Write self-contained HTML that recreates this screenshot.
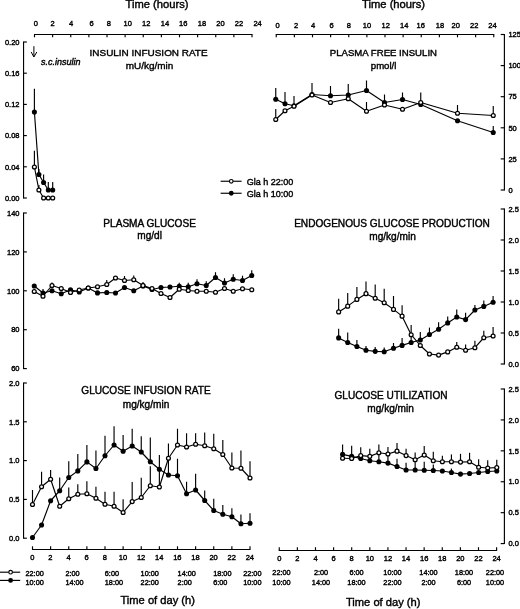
<!DOCTYPE html>
<html><head><meta charset="utf-8"><title>Figure</title>
<style>
html,body{margin:0;padding:0;background:#fff;}
body{width:520px;height:609px;overflow:hidden;}
svg{display:block;font-family:"Liberation Sans", Arial, Helvetica, sans-serif;fill:#000;}
</style></head>
<body>
<svg width="520" height="609" viewBox="0 0 520 609">
<rect x="0" y="0" width="520" height="609" fill="#fff"/>
<text x="157.00" y="7.80" font-size="11.2" text-anchor="middle" stroke="#000" stroke-width="0.4">Time (hours)</text>
<text x="393.60" y="7.80" font-size="11.2" text-anchor="middle" stroke="#000" stroke-width="0.4">Time (hours)</text>
<line x1="34.00" y1="34.50" x2="252.50" y2="34.50" stroke="#000" stroke-width="1.15"/>
<line x1="34.50" y1="34.50" x2="34.50" y2="37.30" stroke="#000" stroke-width="1.15"/>
<text x="35.75" y="26.20" font-size="7.5" text-anchor="middle" stroke="#000" stroke-width="0.4">0</text>
<line x1="52.62" y1="34.50" x2="52.62" y2="37.30" stroke="#000" stroke-width="1.15"/>
<text x="52.50" y="26.20" font-size="7.5" text-anchor="middle" stroke="#000" stroke-width="0.4">2</text>
<line x1="70.75" y1="34.50" x2="70.75" y2="37.30" stroke="#000" stroke-width="1.15"/>
<text x="71.00" y="26.20" font-size="7.5" text-anchor="middle" stroke="#000" stroke-width="0.4">4</text>
<line x1="88.88" y1="34.50" x2="88.88" y2="37.30" stroke="#000" stroke-width="1.15"/>
<text x="91.50" y="26.20" font-size="7.5" text-anchor="middle" stroke="#000" stroke-width="0.4">6</text>
<line x1="107.00" y1="34.50" x2="107.00" y2="37.30" stroke="#000" stroke-width="1.15"/>
<text x="108.75" y="26.20" font-size="7.5" text-anchor="middle" stroke="#000" stroke-width="0.4">8</text>
<line x1="125.12" y1="34.50" x2="125.12" y2="37.30" stroke="#000" stroke-width="1.15"/>
<text x="127.70" y="26.20" font-size="7.5" text-anchor="middle" stroke="#000" stroke-width="0.4">10</text>
<line x1="143.25" y1="34.50" x2="143.25" y2="37.30" stroke="#000" stroke-width="1.15"/>
<text x="146.25" y="26.20" font-size="7.5" text-anchor="middle" stroke="#000" stroke-width="0.4">12</text>
<line x1="161.38" y1="34.50" x2="161.38" y2="37.30" stroke="#000" stroke-width="1.15"/>
<text x="165.00" y="26.20" font-size="7.5" text-anchor="middle" stroke="#000" stroke-width="0.4">14</text>
<line x1="179.50" y1="34.50" x2="179.50" y2="37.30" stroke="#000" stroke-width="1.15"/>
<text x="183.25" y="26.20" font-size="7.5" text-anchor="middle" stroke="#000" stroke-width="0.4">16</text>
<line x1="197.62" y1="34.50" x2="197.62" y2="37.30" stroke="#000" stroke-width="1.15"/>
<text x="202.00" y="26.20" font-size="7.5" text-anchor="middle" stroke="#000" stroke-width="0.4">18</text>
<line x1="215.75" y1="34.50" x2="215.75" y2="37.30" stroke="#000" stroke-width="1.15"/>
<text x="220.50" y="26.20" font-size="7.5" text-anchor="middle" stroke="#000" stroke-width="0.4">20</text>
<line x1="233.88" y1="34.50" x2="233.88" y2="37.30" stroke="#000" stroke-width="1.15"/>
<text x="239.00" y="26.20" font-size="7.5" text-anchor="middle" stroke="#000" stroke-width="0.4">22</text>
<line x1="252.00" y1="34.50" x2="252.00" y2="37.30" stroke="#000" stroke-width="1.15"/>
<text x="257.60" y="26.20" font-size="7.5" text-anchor="middle" stroke="#000" stroke-width="0.4">24</text>
<line x1="275.75" y1="34.50" x2="494.25" y2="34.50" stroke="#000" stroke-width="1.15"/>
<line x1="276.25" y1="34.50" x2="276.25" y2="37.30" stroke="#000" stroke-width="1.15"/>
<text x="277.50" y="27.80" font-size="7.5" text-anchor="middle" stroke="#000" stroke-width="0.4">0</text>
<line x1="294.38" y1="34.50" x2="294.38" y2="37.30" stroke="#000" stroke-width="1.15"/>
<text x="296.00" y="27.80" font-size="7.5" text-anchor="middle" stroke="#000" stroke-width="0.4">2</text>
<line x1="312.50" y1="34.50" x2="312.50" y2="37.30" stroke="#000" stroke-width="1.15"/>
<text x="313.00" y="27.80" font-size="7.5" text-anchor="middle" stroke="#000" stroke-width="0.4">4</text>
<line x1="330.62" y1="34.50" x2="330.62" y2="37.30" stroke="#000" stroke-width="1.15"/>
<text x="331.50" y="27.80" font-size="7.5" text-anchor="middle" stroke="#000" stroke-width="0.4">6</text>
<line x1="348.75" y1="34.50" x2="348.75" y2="37.30" stroke="#000" stroke-width="1.15"/>
<text x="348.75" y="27.80" font-size="7.5" text-anchor="middle" stroke="#000" stroke-width="0.4">8</text>
<line x1="366.88" y1="34.50" x2="366.88" y2="37.30" stroke="#000" stroke-width="1.15"/>
<text x="367.00" y="27.80" font-size="7.5" text-anchor="middle" stroke="#000" stroke-width="0.4">10</text>
<line x1="385.00" y1="34.50" x2="385.00" y2="37.30" stroke="#000" stroke-width="1.15"/>
<text x="385.75" y="27.80" font-size="7.5" text-anchor="middle" stroke="#000" stroke-width="0.4">12</text>
<line x1="403.12" y1="34.50" x2="403.12" y2="37.30" stroke="#000" stroke-width="1.15"/>
<text x="404.25" y="27.80" font-size="7.5" text-anchor="middle" stroke="#000" stroke-width="0.4">14</text>
<line x1="421.25" y1="34.50" x2="421.25" y2="37.30" stroke="#000" stroke-width="1.15"/>
<text x="420.75" y="27.80" font-size="7.5" text-anchor="middle" stroke="#000" stroke-width="0.4">16</text>
<line x1="439.38" y1="34.50" x2="439.38" y2="37.30" stroke="#000" stroke-width="1.15"/>
<text x="440.00" y="27.80" font-size="7.5" text-anchor="middle" stroke="#000" stroke-width="0.4">18</text>
<line x1="457.50" y1="34.50" x2="457.50" y2="37.30" stroke="#000" stroke-width="1.15"/>
<text x="455.75" y="27.80" font-size="7.5" text-anchor="middle" stroke="#000" stroke-width="0.4">20</text>
<line x1="475.62" y1="34.50" x2="475.62" y2="37.30" stroke="#000" stroke-width="1.15"/>
<text x="474.25" y="27.80" font-size="7.5" text-anchor="middle" stroke="#000" stroke-width="0.4">22</text>
<line x1="493.75" y1="34.50" x2="493.75" y2="37.30" stroke="#000" stroke-width="1.15"/>
<text x="492.50" y="27.80" font-size="7.5" text-anchor="middle" stroke="#000" stroke-width="0.4">24</text>
<line x1="23.55" y1="41.50" x2="23.55" y2="198.50" stroke="#000" stroke-width="1.15"/>
<line x1="23.55" y1="42.00" x2="26.85" y2="42.00" stroke="#000" stroke-width="1.15"/>
<text x="19.55" y="44.70" font-size="7.5" text-anchor="end" stroke="#000" stroke-width="0.4">0.20</text>
<line x1="23.55" y1="73.20" x2="26.85" y2="73.20" stroke="#000" stroke-width="1.15"/>
<text x="19.55" y="75.90" font-size="7.5" text-anchor="end" stroke="#000" stroke-width="0.4">0.16</text>
<line x1="23.55" y1="104.40" x2="26.85" y2="104.40" stroke="#000" stroke-width="1.15"/>
<text x="19.55" y="107.10" font-size="7.5" text-anchor="end" stroke="#000" stroke-width="0.4">0.12</text>
<line x1="23.55" y1="135.60" x2="26.85" y2="135.60" stroke="#000" stroke-width="1.15"/>
<text x="19.55" y="138.30" font-size="7.5" text-anchor="end" stroke="#000" stroke-width="0.4">0.08</text>
<line x1="23.55" y1="166.80" x2="26.85" y2="166.80" stroke="#000" stroke-width="1.15"/>
<text x="19.55" y="169.50" font-size="7.5" text-anchor="end" stroke="#000" stroke-width="0.4">0.04</text>
<line x1="23.55" y1="198.00" x2="26.85" y2="198.00" stroke="#000" stroke-width="1.15"/>
<text x="19.55" y="200.70" font-size="7.5" text-anchor="end" stroke="#000" stroke-width="0.4">0.00</text>
<line x1="23.55" y1="212.50" x2="23.55" y2="369.10" stroke="#000" stroke-width="1.15"/>
<line x1="23.55" y1="213.00" x2="26.85" y2="213.00" stroke="#000" stroke-width="1.15"/>
<text x="19.55" y="215.70" font-size="7.5" text-anchor="end" stroke="#000" stroke-width="0.4">140</text>
<line x1="23.55" y1="251.90" x2="26.85" y2="251.90" stroke="#000" stroke-width="1.15"/>
<text x="19.55" y="254.60" font-size="7.5" text-anchor="end" stroke="#000" stroke-width="0.4">120</text>
<line x1="23.55" y1="290.80" x2="26.85" y2="290.80" stroke="#000" stroke-width="1.15"/>
<text x="19.55" y="293.50" font-size="7.5" text-anchor="end" stroke="#000" stroke-width="0.4">100</text>
<line x1="23.55" y1="329.70" x2="26.85" y2="329.70" stroke="#000" stroke-width="1.15"/>
<text x="19.55" y="332.40" font-size="7.5" text-anchor="end" stroke="#000" stroke-width="0.4">80</text>
<line x1="23.55" y1="368.60" x2="26.85" y2="368.60" stroke="#000" stroke-width="1.15"/>
<text x="19.55" y="371.30" font-size="7.5" text-anchor="end" stroke="#000" stroke-width="0.4">60</text>
<line x1="23.55" y1="382.50" x2="23.55" y2="538.70" stroke="#000" stroke-width="1.15"/>
<line x1="23.55" y1="383.00" x2="26.85" y2="383.00" stroke="#000" stroke-width="1.15"/>
<text x="19.55" y="385.70" font-size="7.5" text-anchor="end" stroke="#000" stroke-width="0.4">2.0</text>
<line x1="23.55" y1="421.80" x2="26.85" y2="421.80" stroke="#000" stroke-width="1.15"/>
<text x="19.55" y="424.50" font-size="7.5" text-anchor="end" stroke="#000" stroke-width="0.4">1.5</text>
<line x1="23.55" y1="460.60" x2="26.85" y2="460.60" stroke="#000" stroke-width="1.15"/>
<text x="19.55" y="463.30" font-size="7.5" text-anchor="end" stroke="#000" stroke-width="0.4">1.0</text>
<line x1="23.55" y1="499.40" x2="26.85" y2="499.40" stroke="#000" stroke-width="1.15"/>
<text x="19.55" y="502.10" font-size="7.5" text-anchor="end" stroke="#000" stroke-width="0.4">0.5</text>
<line x1="23.55" y1="538.20" x2="26.85" y2="538.20" stroke="#000" stroke-width="1.15"/>
<text x="19.55" y="540.90" font-size="7.5" text-anchor="end" stroke="#000" stroke-width="0.4">0.0</text>
<line x1="504.40" y1="34.00" x2="504.40" y2="190.50" stroke="#000" stroke-width="1.15"/>
<line x1="500.70" y1="34.50" x2="504.40" y2="34.50" stroke="#000" stroke-width="1.15"/>
<text x="508.40" y="37.20" font-size="7.5" text-anchor="start" stroke="#000" stroke-width="0.4">125</text>
<line x1="500.70" y1="65.60" x2="504.40" y2="65.60" stroke="#000" stroke-width="1.15"/>
<text x="508.40" y="68.30" font-size="7.5" text-anchor="start" stroke="#000" stroke-width="0.4">100</text>
<line x1="500.70" y1="96.70" x2="504.40" y2="96.70" stroke="#000" stroke-width="1.15"/>
<text x="508.40" y="99.40" font-size="7.5" text-anchor="start" stroke="#000" stroke-width="0.4">75</text>
<line x1="500.70" y1="127.80" x2="504.40" y2="127.80" stroke="#000" stroke-width="1.15"/>
<text x="508.40" y="130.50" font-size="7.5" text-anchor="start" stroke="#000" stroke-width="0.4">50</text>
<line x1="500.70" y1="158.90" x2="504.40" y2="158.90" stroke="#000" stroke-width="1.15"/>
<text x="508.40" y="161.60" font-size="7.5" text-anchor="start" stroke="#000" stroke-width="0.4">25</text>
<line x1="500.70" y1="190.00" x2="504.40" y2="190.00" stroke="#000" stroke-width="1.15"/>
<text x="508.40" y="192.70" font-size="7.5" text-anchor="start" stroke="#000" stroke-width="0.4">0</text>
<line x1="504.40" y1="208.50" x2="504.40" y2="364.50" stroke="#000" stroke-width="1.15"/>
<line x1="500.70" y1="209.00" x2="504.40" y2="209.00" stroke="#000" stroke-width="1.15"/>
<text x="508.40" y="211.70" font-size="7.5" text-anchor="start" stroke="#000" stroke-width="0.4">2.5</text>
<line x1="500.70" y1="240.00" x2="504.40" y2="240.00" stroke="#000" stroke-width="1.15"/>
<text x="508.40" y="242.70" font-size="7.5" text-anchor="start" stroke="#000" stroke-width="0.4">2.0</text>
<line x1="500.70" y1="271.00" x2="504.40" y2="271.00" stroke="#000" stroke-width="1.15"/>
<text x="508.40" y="273.70" font-size="7.5" text-anchor="start" stroke="#000" stroke-width="0.4">1.5</text>
<line x1="500.70" y1="302.00" x2="504.40" y2="302.00" stroke="#000" stroke-width="1.15"/>
<text x="508.40" y="304.70" font-size="7.5" text-anchor="start" stroke="#000" stroke-width="0.4">1.0</text>
<line x1="500.70" y1="333.00" x2="504.40" y2="333.00" stroke="#000" stroke-width="1.15"/>
<text x="508.40" y="335.70" font-size="7.5" text-anchor="start" stroke="#000" stroke-width="0.4">0.5</text>
<line x1="500.70" y1="364.00" x2="504.40" y2="364.00" stroke="#000" stroke-width="1.15"/>
<text x="508.40" y="366.70" font-size="7.5" text-anchor="start" stroke="#000" stroke-width="0.4">0.0</text>
<line x1="504.40" y1="388.50" x2="504.40" y2="544.10" stroke="#000" stroke-width="1.15"/>
<line x1="500.70" y1="389.00" x2="504.40" y2="389.00" stroke="#000" stroke-width="1.15"/>
<text x="508.40" y="391.70" font-size="7.5" text-anchor="start" stroke="#000" stroke-width="0.4">2.5</text>
<line x1="500.70" y1="419.92" x2="504.40" y2="419.92" stroke="#000" stroke-width="1.15"/>
<text x="508.40" y="422.62" font-size="7.5" text-anchor="start" stroke="#000" stroke-width="0.4">2.0</text>
<line x1="500.70" y1="450.84" x2="504.40" y2="450.84" stroke="#000" stroke-width="1.15"/>
<text x="508.40" y="453.54" font-size="7.5" text-anchor="start" stroke="#000" stroke-width="0.4">1.5</text>
<line x1="500.70" y1="481.76" x2="504.40" y2="481.76" stroke="#000" stroke-width="1.15"/>
<text x="508.40" y="484.46" font-size="7.5" text-anchor="start" stroke="#000" stroke-width="0.4">1.0</text>
<line x1="500.70" y1="512.68" x2="504.40" y2="512.68" stroke="#000" stroke-width="1.15"/>
<text x="508.40" y="515.38" font-size="7.5" text-anchor="start" stroke="#000" stroke-width="0.4">0.5</text>
<line x1="500.70" y1="543.60" x2="504.40" y2="543.60" stroke="#000" stroke-width="1.15"/>
<text x="508.40" y="546.30" font-size="7.5" text-anchor="start" stroke="#000" stroke-width="0.4">0.0</text>
<text x="148.60" y="55.90" font-size="9.95" text-anchor="middle" stroke="#000" stroke-width="0.4">INSULIN INFUSION RATE</text>
<text x="149.50" y="69.40" font-size="9.95" text-anchor="middle" stroke="#000" stroke-width="0.4">mU/kg/min</text>
<text x="41.00" y="64.50" font-size="9" text-anchor="start" stroke="#000" stroke-width="0.4" font-style="italic">s.c.insulin</text>
<path d="M33.9 46.2 L33.9 56.6 M31.2 52 L33.9 57 L36.8 52" fill="none" stroke="#000" stroke-width="1.0" stroke-linejoin="miter"/>
<text x="383.40" y="55.80" font-size="9.6" text-anchor="middle" stroke="#000" stroke-width="0.4">PLASMA FREE INSULIN</text>
<text x="383.60" y="69.30" font-size="9.6" text-anchor="middle" stroke="#000" stroke-width="0.4">pmol/l</text>
<text x="149.60" y="226.50" font-size="10.1" text-anchor="middle" stroke="#000" stroke-width="0.4">PLASMA GLUCOSE</text>
<text x="149.60" y="239.40" font-size="10.1" text-anchor="middle" stroke="#000" stroke-width="0.4">mg/dl</text>
<text x="392.00" y="227.10" font-size="10.1" text-anchor="middle" stroke="#000" stroke-width="0.4">ENDOGENOUS GLUCOSE PRODUCTION</text>
<text x="392.50" y="239.80" font-size="10.1" text-anchor="middle" stroke="#000" stroke-width="0.4">mg/kg/min</text>
<text x="146.00" y="394.00" font-size="10.1" text-anchor="middle" stroke="#000" stroke-width="0.4">GLUCOSE INFUSION RATE</text>
<text x="146.00" y="407.60" font-size="10.1" text-anchor="middle" stroke="#000" stroke-width="0.4">mg/kg/min</text>
<text x="391.00" y="398.60" font-size="10.1" text-anchor="middle" stroke="#000" stroke-width="0.4">GLUCOSE UTILIZATION</text>
<text x="390.60" y="411.70" font-size="10.1" text-anchor="middle" stroke="#000" stroke-width="0.4">mg/kg/min</text>
<line x1="220.60" y1="181.25" x2="241.60" y2="181.25" stroke="#000" stroke-width="1.15"/>
<circle cx="231.25" cy="181.25" r="1.8" fill="#fff" stroke="#000" stroke-width="1.15"/>
<line x1="220.60" y1="193.25" x2="241.60" y2="193.25" stroke="#000" stroke-width="1.15"/>
<circle cx="231.25" cy="193.25" r="2.4" fill="#000"/>
<text x="246.75" y="184.50" font-size="9" text-anchor="start" stroke="#000" stroke-width="0.4">Gla h 22:00</text>
<text x="246.75" y="196.50" font-size="9" text-anchor="start" stroke="#000" stroke-width="0.4">Gla h 10:00</text>
<line x1="34.40" y1="167.00" x2="34.40" y2="150.75" stroke="#000" stroke-width="1.15"/>
<line x1="38.90" y1="190.00" x2="38.90" y2="185.00" stroke="#000" stroke-width="1.15"/>
<line x1="34.40" y1="112.00" x2="34.40" y2="88.75" stroke="#000" stroke-width="1.15"/>
<line x1="38.90" y1="174.50" x2="38.90" y2="169.00" stroke="#000" stroke-width="1.15"/>
<line x1="43.60" y1="182.50" x2="43.60" y2="174.50" stroke="#000" stroke-width="1.15"/>
<line x1="48.30" y1="190.00" x2="48.30" y2="182.00" stroke="#000" stroke-width="1.15"/>
<line x1="52.70" y1="190.00" x2="52.70" y2="182.00" stroke="#000" stroke-width="1.15"/>
<polyline points="34.40,167.00 38.90,190.00 43.60,198.00 48.30,198.00 52.70,198.00" fill="none" stroke="#000" stroke-width="1.15" stroke-linejoin="round"/>
<circle cx="34.40" cy="167.00" r="1.95" fill="#fff" stroke="#000" stroke-width="1.25"/>
<circle cx="38.90" cy="190.00" r="1.95" fill="#fff" stroke="#000" stroke-width="1.25"/>
<circle cx="43.60" cy="198.00" r="1.95" fill="#fff" stroke="#000" stroke-width="1.25"/>
<circle cx="48.30" cy="198.00" r="1.95" fill="#fff" stroke="#000" stroke-width="1.25"/>
<circle cx="52.70" cy="198.00" r="1.95" fill="#fff" stroke="#000" stroke-width="1.25"/>
<polyline points="34.40,112.00 38.90,174.50 43.60,182.50 48.30,190.00 52.70,190.00" fill="none" stroke="#000" stroke-width="1.15" stroke-linejoin="round"/>
<circle cx="34.40" cy="112.00" r="2.55" fill="#000"/>
<circle cx="38.90" cy="174.50" r="2.55" fill="#000"/>
<circle cx="43.60" cy="182.50" r="2.55" fill="#000"/>
<circle cx="48.30" cy="190.00" r="2.55" fill="#000"/>
<circle cx="52.70" cy="190.00" r="2.55" fill="#000"/>
<line x1="275.75" y1="99.25" x2="275.75" y2="88.00" stroke="#000" stroke-width="1.15"/>
<line x1="285.00" y1="103.75" x2="285.00" y2="92.00" stroke="#000" stroke-width="1.15"/>
<line x1="294.00" y1="105.75" x2="294.00" y2="96.00" stroke="#000" stroke-width="1.15"/>
<line x1="312.00" y1="94.50" x2="312.00" y2="83.00" stroke="#000" stroke-width="1.15"/>
<line x1="330.50" y1="95.75" x2="330.50" y2="86.00" stroke="#000" stroke-width="1.15"/>
<line x1="348.25" y1="95.00" x2="348.25" y2="84.00" stroke="#000" stroke-width="1.15"/>
<line x1="366.50" y1="90.50" x2="366.50" y2="80.50" stroke="#000" stroke-width="1.15"/>
<line x1="384.50" y1="102.50" x2="384.50" y2="94.50" stroke="#000" stroke-width="1.15"/>
<line x1="402.50" y1="99.50" x2="402.50" y2="92.50" stroke="#000" stroke-width="1.15"/>
<line x1="493.25" y1="132.50" x2="493.25" y2="126.00" stroke="#000" stroke-width="1.15"/>
<line x1="275.75" y1="119.50" x2="275.75" y2="109.00" stroke="#000" stroke-width="1.15"/>
<line x1="366.50" y1="111.25" x2="366.50" y2="102.00" stroke="#000" stroke-width="1.15"/>
<line x1="420.75" y1="102.50" x2="420.75" y2="92.50" stroke="#000" stroke-width="1.15"/>
<line x1="457.50" y1="113.25" x2="457.50" y2="105.00" stroke="#000" stroke-width="1.15"/>
<line x1="493.25" y1="115.50" x2="493.25" y2="106.00" stroke="#000" stroke-width="1.15"/>
<polyline points="275.75,99.25 285.00,103.75 294.00,105.75 312.00,94.50 330.50,95.75 348.25,95.00 366.50,90.50 384.50,102.50 402.50,99.50 420.75,104.50 457.50,120.75 493.25,132.50" fill="none" stroke="#000" stroke-width="1.15" stroke-linejoin="round"/>
<circle cx="275.75" cy="99.25" r="2.55" fill="#000"/>
<circle cx="285.00" cy="103.75" r="2.55" fill="#000"/>
<circle cx="294.00" cy="105.75" r="2.55" fill="#000"/>
<circle cx="312.00" cy="94.50" r="2.55" fill="#000"/>
<circle cx="330.50" cy="95.75" r="2.55" fill="#000"/>
<circle cx="348.25" cy="95.00" r="2.55" fill="#000"/>
<circle cx="366.50" cy="90.50" r="2.55" fill="#000"/>
<circle cx="384.50" cy="102.50" r="2.55" fill="#000"/>
<circle cx="402.50" cy="99.50" r="2.55" fill="#000"/>
<circle cx="420.75" cy="104.50" r="2.55" fill="#000"/>
<circle cx="457.50" cy="120.75" r="2.55" fill="#000"/>
<circle cx="493.25" cy="132.50" r="2.55" fill="#000"/>
<polyline points="275.75,119.50 285.00,110.75 294.00,106.25 312.00,95.00 330.50,102.50 348.25,98.75 366.50,111.25 384.50,105.00 402.50,109.25 420.75,102.50 457.50,113.25 493.25,115.50" fill="none" stroke="#000" stroke-width="1.15" stroke-linejoin="round"/>
<circle cx="275.75" cy="119.50" r="1.95" fill="#fff" stroke="#000" stroke-width="1.25"/>
<circle cx="285.00" cy="110.75" r="1.95" fill="#fff" stroke="#000" stroke-width="1.25"/>
<circle cx="294.00" cy="106.25" r="1.95" fill="#fff" stroke="#000" stroke-width="1.25"/>
<circle cx="312.00" cy="95.00" r="1.95" fill="#fff" stroke="#000" stroke-width="1.25"/>
<circle cx="330.50" cy="102.50" r="1.95" fill="#fff" stroke="#000" stroke-width="1.25"/>
<circle cx="348.25" cy="98.75" r="1.95" fill="#fff" stroke="#000" stroke-width="1.25"/>
<circle cx="366.50" cy="111.25" r="1.95" fill="#fff" stroke="#000" stroke-width="1.25"/>
<circle cx="384.50" cy="105.00" r="1.95" fill="#fff" stroke="#000" stroke-width="1.25"/>
<circle cx="402.50" cy="109.25" r="1.95" fill="#fff" stroke="#000" stroke-width="1.25"/>
<circle cx="420.75" cy="102.50" r="1.95" fill="#fff" stroke="#000" stroke-width="1.25"/>
<circle cx="457.50" cy="113.25" r="1.95" fill="#fff" stroke="#000" stroke-width="1.25"/>
<circle cx="493.25" cy="115.50" r="1.95" fill="#fff" stroke="#000" stroke-width="1.25"/>
<line x1="43.00" y1="293.00" x2="43.00" y2="289.00" stroke="#000" stroke-width="1.15"/>
<line x1="179.25" y1="286.30" x2="179.25" y2="282.70" stroke="#000" stroke-width="1.15"/>
<line x1="188.25" y1="286.75" x2="188.25" y2="282.70" stroke="#000" stroke-width="1.15"/>
<line x1="197.00" y1="283.75" x2="197.00" y2="279.20" stroke="#000" stroke-width="1.15"/>
<line x1="206.25" y1="285.50" x2="206.25" y2="281.20" stroke="#000" stroke-width="1.15"/>
<line x1="215.50" y1="277.50" x2="215.50" y2="272.20" stroke="#000" stroke-width="1.15"/>
<line x1="224.50" y1="283.00" x2="224.50" y2="278.20" stroke="#000" stroke-width="1.15"/>
<line x1="233.25" y1="279.25" x2="233.25" y2="274.20" stroke="#000" stroke-width="1.15"/>
<line x1="242.50" y1="280.50" x2="242.50" y2="275.70" stroke="#000" stroke-width="1.15"/>
<line x1="251.75" y1="275.50" x2="251.75" y2="270.20" stroke="#000" stroke-width="1.15"/>
<line x1="52.00" y1="285.50" x2="52.00" y2="282.50" stroke="#000" stroke-width="1.15"/>
<line x1="106.75" y1="284.55" x2="106.75" y2="280.00" stroke="#000" stroke-width="1.15"/>
<line x1="124.50" y1="280.50" x2="124.50" y2="276.00" stroke="#000" stroke-width="1.15"/>
<line x1="133.75" y1="279.75" x2="133.75" y2="275.50" stroke="#000" stroke-width="1.15"/>
<line x1="143.00" y1="285.60" x2="143.00" y2="282.00" stroke="#000" stroke-width="1.15"/>
<polyline points="34.25,286.05 43.00,293.00 52.00,290.80 61.25,293.75 70.50,289.75 79.25,292.00 88.25,288.00 97.50,292.90 106.75,292.45 115.50,293.00 124.50,287.50 133.75,290.80 143.00,285.90 152.00,289.55 161.00,287.55 170.00,287.05 179.25,286.30 188.25,286.75 197.00,283.75 206.25,285.50 215.50,277.50 224.50,283.00 233.25,279.25 242.50,280.50 251.75,275.50" fill="none" stroke="#000" stroke-width="1.15" stroke-linejoin="round"/>
<circle cx="34.25" cy="286.05" r="2.55" fill="#000"/>
<circle cx="43.00" cy="293.00" r="2.55" fill="#000"/>
<circle cx="52.00" cy="290.80" r="2.55" fill="#000"/>
<circle cx="61.25" cy="293.75" r="2.55" fill="#000"/>
<circle cx="70.50" cy="289.75" r="2.55" fill="#000"/>
<circle cx="79.25" cy="292.00" r="2.55" fill="#000"/>
<circle cx="88.25" cy="288.00" r="2.55" fill="#000"/>
<circle cx="97.50" cy="292.90" r="2.55" fill="#000"/>
<circle cx="106.75" cy="292.45" r="2.55" fill="#000"/>
<circle cx="115.50" cy="293.00" r="2.55" fill="#000"/>
<circle cx="124.50" cy="287.50" r="2.55" fill="#000"/>
<circle cx="133.75" cy="290.80" r="2.55" fill="#000"/>
<circle cx="143.00" cy="285.90" r="2.55" fill="#000"/>
<circle cx="152.00" cy="289.55" r="2.55" fill="#000"/>
<circle cx="161.00" cy="287.55" r="2.55" fill="#000"/>
<circle cx="170.00" cy="287.05" r="2.55" fill="#000"/>
<circle cx="179.25" cy="286.30" r="2.55" fill="#000"/>
<circle cx="188.25" cy="286.75" r="2.55" fill="#000"/>
<circle cx="197.00" cy="283.75" r="2.55" fill="#000"/>
<circle cx="206.25" cy="285.50" r="2.55" fill="#000"/>
<circle cx="215.50" cy="277.50" r="2.55" fill="#000"/>
<circle cx="224.50" cy="283.00" r="2.55" fill="#000"/>
<circle cx="233.25" cy="279.25" r="2.55" fill="#000"/>
<circle cx="242.50" cy="280.50" r="2.55" fill="#000"/>
<circle cx="251.75" cy="275.50" r="2.55" fill="#000"/>
<polyline points="34.25,291.55 43.00,296.25 52.00,285.50 61.25,288.45 70.50,292.50 79.25,290.00 88.25,288.00 97.50,286.75 106.75,284.55 115.50,278.00 124.50,280.50 133.75,279.75 143.00,285.60 152.00,288.50 161.00,293.45 170.00,297.50 179.25,289.25 188.25,290.50 197.00,291.25 206.25,291.25 215.50,292.25 224.50,288.50 233.25,291.25 242.50,288.75 251.75,289.75" fill="none" stroke="#000" stroke-width="1.15" stroke-linejoin="round"/>
<circle cx="34.25" cy="291.55" r="1.95" fill="#fff" stroke="#000" stroke-width="1.25"/>
<circle cx="43.00" cy="296.25" r="1.95" fill="#fff" stroke="#000" stroke-width="1.25"/>
<circle cx="52.00" cy="285.50" r="1.95" fill="#fff" stroke="#000" stroke-width="1.25"/>
<circle cx="61.25" cy="288.45" r="1.95" fill="#fff" stroke="#000" stroke-width="1.25"/>
<circle cx="70.50" cy="292.50" r="1.95" fill="#fff" stroke="#000" stroke-width="1.25"/>
<circle cx="79.25" cy="290.00" r="1.95" fill="#fff" stroke="#000" stroke-width="1.25"/>
<circle cx="88.25" cy="288.00" r="1.95" fill="#fff" stroke="#000" stroke-width="1.25"/>
<circle cx="97.50" cy="286.75" r="1.95" fill="#fff" stroke="#000" stroke-width="1.25"/>
<circle cx="106.75" cy="284.55" r="1.95" fill="#fff" stroke="#000" stroke-width="1.25"/>
<circle cx="115.50" cy="278.00" r="1.95" fill="#fff" stroke="#000" stroke-width="1.25"/>
<circle cx="124.50" cy="280.50" r="1.95" fill="#fff" stroke="#000" stroke-width="1.25"/>
<circle cx="133.75" cy="279.75" r="1.95" fill="#fff" stroke="#000" stroke-width="1.25"/>
<circle cx="143.00" cy="285.60" r="1.95" fill="#fff" stroke="#000" stroke-width="1.25"/>
<circle cx="152.00" cy="288.50" r="1.95" fill="#fff" stroke="#000" stroke-width="1.25"/>
<circle cx="161.00" cy="293.45" r="1.95" fill="#fff" stroke="#000" stroke-width="1.25"/>
<circle cx="170.00" cy="297.50" r="1.95" fill="#fff" stroke="#000" stroke-width="1.25"/>
<circle cx="179.25" cy="289.25" r="1.95" fill="#fff" stroke="#000" stroke-width="1.25"/>
<circle cx="188.25" cy="290.50" r="1.95" fill="#fff" stroke="#000" stroke-width="1.25"/>
<circle cx="197.00" cy="291.25" r="1.95" fill="#fff" stroke="#000" stroke-width="1.25"/>
<circle cx="206.25" cy="291.25" r="1.95" fill="#fff" stroke="#000" stroke-width="1.25"/>
<circle cx="215.50" cy="292.25" r="1.95" fill="#fff" stroke="#000" stroke-width="1.25"/>
<circle cx="224.50" cy="288.50" r="1.95" fill="#fff" stroke="#000" stroke-width="1.25"/>
<circle cx="233.25" cy="291.25" r="1.95" fill="#fff" stroke="#000" stroke-width="1.25"/>
<circle cx="242.50" cy="288.75" r="1.95" fill="#fff" stroke="#000" stroke-width="1.25"/>
<circle cx="251.75" cy="289.75" r="1.95" fill="#fff" stroke="#000" stroke-width="1.25"/>
<line x1="338.65" y1="311.90" x2="338.65" y2="298.85" stroke="#000" stroke-width="1.15"/>
<line x1="347.70" y1="306.15" x2="347.70" y2="293.00" stroke="#000" stroke-width="1.15"/>
<line x1="356.90" y1="299.40" x2="356.90" y2="287.00" stroke="#000" stroke-width="1.15"/>
<line x1="366.00" y1="293.65" x2="366.00" y2="281.50" stroke="#000" stroke-width="1.15"/>
<line x1="375.20" y1="298.30" x2="375.20" y2="284.40" stroke="#000" stroke-width="1.15"/>
<line x1="384.20" y1="302.70" x2="384.20" y2="288.65" stroke="#000" stroke-width="1.15"/>
<line x1="393.50" y1="309.40" x2="393.50" y2="296.00" stroke="#000" stroke-width="1.15"/>
<line x1="402.10" y1="316.15" x2="402.10" y2="305.20" stroke="#000" stroke-width="1.15"/>
<line x1="411.15" y1="334.70" x2="411.15" y2="325.10" stroke="#000" stroke-width="1.15"/>
<line x1="456.75" y1="347.30" x2="456.75" y2="342.00" stroke="#000" stroke-width="1.15"/>
<line x1="465.60" y1="350.20" x2="465.60" y2="344.50" stroke="#000" stroke-width="1.15"/>
<line x1="474.90" y1="347.70" x2="474.90" y2="340.70" stroke="#000" stroke-width="1.15"/>
<line x1="483.80" y1="337.75" x2="483.80" y2="330.80" stroke="#000" stroke-width="1.15"/>
<line x1="493.10" y1="336.00" x2="493.10" y2="327.00" stroke="#000" stroke-width="1.15"/>
<line x1="338.65" y1="337.90" x2="338.65" y2="328.65" stroke="#000" stroke-width="1.15"/>
<line x1="347.70" y1="342.50" x2="347.70" y2="332.50" stroke="#000" stroke-width="1.15"/>
<line x1="356.90" y1="346.50" x2="356.90" y2="340.00" stroke="#000" stroke-width="1.15"/>
<line x1="366.00" y1="350.20" x2="366.00" y2="346.00" stroke="#000" stroke-width="1.15"/>
<line x1="375.20" y1="351.35" x2="375.20" y2="347.00" stroke="#000" stroke-width="1.15"/>
<line x1="384.20" y1="351.70" x2="384.20" y2="347.50" stroke="#000" stroke-width="1.15"/>
<line x1="393.50" y1="348.30" x2="393.50" y2="343.00" stroke="#000" stroke-width="1.15"/>
<line x1="402.10" y1="345.40" x2="402.10" y2="337.90" stroke="#000" stroke-width="1.15"/>
<line x1="411.15" y1="342.45" x2="411.15" y2="336.30" stroke="#000" stroke-width="1.15"/>
<line x1="420.30" y1="340.00" x2="420.30" y2="331.90" stroke="#000" stroke-width="1.15"/>
<line x1="429.45" y1="334.50" x2="429.45" y2="327.60" stroke="#000" stroke-width="1.15"/>
<line x1="438.60" y1="329.30" x2="438.60" y2="322.30" stroke="#000" stroke-width="1.15"/>
<line x1="447.70" y1="322.90" x2="447.70" y2="316.40" stroke="#000" stroke-width="1.15"/>
<line x1="456.75" y1="317.00" x2="456.75" y2="309.60" stroke="#000" stroke-width="1.15"/>
<line x1="465.60" y1="319.60" x2="465.60" y2="312.80" stroke="#000" stroke-width="1.15"/>
<line x1="474.90" y1="310.00" x2="474.90" y2="305.00" stroke="#000" stroke-width="1.15"/>
<line x1="483.80" y1="306.40" x2="483.80" y2="300.50" stroke="#000" stroke-width="1.15"/>
<line x1="493.10" y1="302.20" x2="493.10" y2="295.90" stroke="#000" stroke-width="1.15"/>
<polyline points="338.65,311.90 347.70,306.15 356.90,299.40 366.00,293.65 375.20,298.30 384.20,302.70 393.50,309.40 402.10,316.15 411.15,334.70 420.30,345.50 429.45,354.00 438.60,355.10 447.70,351.90 456.75,347.30 465.60,350.20 474.90,347.70 483.80,337.75 493.10,336.00" fill="none" stroke="#000" stroke-width="1.15" stroke-linejoin="round"/>
<circle cx="338.65" cy="311.90" r="1.95" fill="#fff" stroke="#000" stroke-width="1.25"/>
<circle cx="347.70" cy="306.15" r="1.95" fill="#fff" stroke="#000" stroke-width="1.25"/>
<circle cx="356.90" cy="299.40" r="1.95" fill="#fff" stroke="#000" stroke-width="1.25"/>
<circle cx="366.00" cy="293.65" r="1.95" fill="#fff" stroke="#000" stroke-width="1.25"/>
<circle cx="375.20" cy="298.30" r="1.95" fill="#fff" stroke="#000" stroke-width="1.25"/>
<circle cx="384.20" cy="302.70" r="1.95" fill="#fff" stroke="#000" stroke-width="1.25"/>
<circle cx="393.50" cy="309.40" r="1.95" fill="#fff" stroke="#000" stroke-width="1.25"/>
<circle cx="402.10" cy="316.15" r="1.95" fill="#fff" stroke="#000" stroke-width="1.25"/>
<circle cx="411.15" cy="334.70" r="1.95" fill="#fff" stroke="#000" stroke-width="1.25"/>
<circle cx="420.30" cy="345.50" r="1.95" fill="#fff" stroke="#000" stroke-width="1.25"/>
<circle cx="429.45" cy="354.00" r="1.95" fill="#fff" stroke="#000" stroke-width="1.25"/>
<circle cx="438.60" cy="355.10" r="1.95" fill="#fff" stroke="#000" stroke-width="1.25"/>
<circle cx="447.70" cy="351.90" r="1.95" fill="#fff" stroke="#000" stroke-width="1.25"/>
<circle cx="456.75" cy="347.30" r="1.95" fill="#fff" stroke="#000" stroke-width="1.25"/>
<circle cx="465.60" cy="350.20" r="1.95" fill="#fff" stroke="#000" stroke-width="1.25"/>
<circle cx="474.90" cy="347.70" r="1.95" fill="#fff" stroke="#000" stroke-width="1.25"/>
<circle cx="483.80" cy="337.75" r="1.95" fill="#fff" stroke="#000" stroke-width="1.25"/>
<circle cx="493.10" cy="336.00" r="1.95" fill="#fff" stroke="#000" stroke-width="1.25"/>
<polyline points="338.65,337.90 347.70,342.50 356.90,346.50 366.00,350.20 375.20,351.35 384.20,351.70 393.50,348.30 402.10,345.40 411.15,342.45 420.30,340.00 429.45,334.50 438.60,329.30 447.70,322.90 456.75,317.00 465.60,319.60 474.90,310.00 483.80,306.40 493.10,302.20" fill="none" stroke="#000" stroke-width="1.15" stroke-linejoin="round"/>
<circle cx="338.65" cy="337.90" r="2.55" fill="#000"/>
<circle cx="347.70" cy="342.50" r="2.55" fill="#000"/>
<circle cx="356.90" cy="346.50" r="2.55" fill="#000"/>
<circle cx="366.00" cy="350.20" r="2.55" fill="#000"/>
<circle cx="375.20" cy="351.35" r="2.55" fill="#000"/>
<circle cx="384.20" cy="351.70" r="2.55" fill="#000"/>
<circle cx="393.50" cy="348.30" r="2.55" fill="#000"/>
<circle cx="402.10" cy="345.40" r="2.55" fill="#000"/>
<circle cx="411.15" cy="342.45" r="2.55" fill="#000"/>
<circle cx="420.30" cy="340.00" r="2.55" fill="#000"/>
<circle cx="429.45" cy="334.50" r="2.55" fill="#000"/>
<circle cx="438.60" cy="329.30" r="2.55" fill="#000"/>
<circle cx="447.70" cy="322.90" r="2.55" fill="#000"/>
<circle cx="456.75" cy="317.00" r="2.55" fill="#000"/>
<circle cx="465.60" cy="319.60" r="2.55" fill="#000"/>
<circle cx="474.90" cy="310.00" r="2.55" fill="#000"/>
<circle cx="483.80" cy="306.40" r="2.55" fill="#000"/>
<circle cx="493.10" cy="302.20" r="2.55" fill="#000"/>
<line x1="32.50" y1="504.50" x2="32.50" y2="490.00" stroke="#000" stroke-width="1.15"/>
<line x1="41.56" y1="486.75" x2="41.56" y2="471.75" stroke="#000" stroke-width="1.15"/>
<line x1="50.62" y1="479.25" x2="50.62" y2="470.00" stroke="#000" stroke-width="1.15"/>
<line x1="68.75" y1="498.75" x2="68.75" y2="487.50" stroke="#000" stroke-width="1.15"/>
<line x1="77.81" y1="494.25" x2="77.81" y2="484.25" stroke="#000" stroke-width="1.15"/>
<line x1="86.88" y1="493.75" x2="86.88" y2="481.25" stroke="#000" stroke-width="1.15"/>
<line x1="95.94" y1="498.25" x2="95.94" y2="486.75" stroke="#000" stroke-width="1.15"/>
<line x1="105.00" y1="504.25" x2="105.00" y2="491.75" stroke="#000" stroke-width="1.15"/>
<line x1="114.06" y1="506.25" x2="114.06" y2="491.75" stroke="#000" stroke-width="1.15"/>
<line x1="123.12" y1="512.50" x2="123.12" y2="499.25" stroke="#000" stroke-width="1.15"/>
<line x1="132.19" y1="501.60" x2="132.19" y2="482.00" stroke="#000" stroke-width="1.15"/>
<line x1="141.25" y1="497.50" x2="141.25" y2="477.75" stroke="#000" stroke-width="1.15"/>
<line x1="150.31" y1="485.75" x2="150.31" y2="466.25" stroke="#000" stroke-width="1.15"/>
<line x1="159.38" y1="487.00" x2="159.38" y2="469.00" stroke="#000" stroke-width="1.15"/>
<line x1="168.44" y1="458.25" x2="168.44" y2="443.50" stroke="#000" stroke-width="1.15"/>
<line x1="177.50" y1="445.00" x2="177.50" y2="428.75" stroke="#000" stroke-width="1.15"/>
<line x1="186.56" y1="447.00" x2="186.56" y2="433.25" stroke="#000" stroke-width="1.15"/>
<line x1="195.62" y1="444.25" x2="195.62" y2="433.25" stroke="#000" stroke-width="1.15"/>
<line x1="204.69" y1="445.75" x2="204.69" y2="432.50" stroke="#000" stroke-width="1.15"/>
<line x1="213.75" y1="448.75" x2="213.75" y2="433.75" stroke="#000" stroke-width="1.15"/>
<line x1="222.81" y1="454.50" x2="222.81" y2="440.00" stroke="#000" stroke-width="1.15"/>
<line x1="231.88" y1="468.00" x2="231.88" y2="452.50" stroke="#000" stroke-width="1.15"/>
<line x1="240.94" y1="468.25" x2="240.94" y2="450.50" stroke="#000" stroke-width="1.15"/>
<line x1="250.00" y1="478.00" x2="250.00" y2="461.25" stroke="#000" stroke-width="1.15"/>
<line x1="59.69" y1="490.75" x2="59.69" y2="477.50" stroke="#000" stroke-width="1.15"/>
<line x1="68.75" y1="477.50" x2="68.75" y2="461.25" stroke="#000" stroke-width="1.15"/>
<line x1="77.81" y1="470.90" x2="77.81" y2="454.00" stroke="#000" stroke-width="1.15"/>
<line x1="86.88" y1="461.90" x2="86.88" y2="445.00" stroke="#000" stroke-width="1.15"/>
<line x1="95.94" y1="468.50" x2="95.94" y2="450.60" stroke="#000" stroke-width="1.15"/>
<line x1="105.00" y1="455.75" x2="105.00" y2="435.75" stroke="#000" stroke-width="1.15"/>
<line x1="114.06" y1="445.00" x2="114.06" y2="426.25" stroke="#000" stroke-width="1.15"/>
<line x1="123.12" y1="451.25" x2="123.12" y2="435.00" stroke="#000" stroke-width="1.15"/>
<line x1="132.19" y1="446.00" x2="132.19" y2="428.75" stroke="#000" stroke-width="1.15"/>
<line x1="141.25" y1="452.00" x2="141.25" y2="436.25" stroke="#000" stroke-width="1.15"/>
<line x1="150.31" y1="461.75" x2="150.31" y2="437.50" stroke="#000" stroke-width="1.15"/>
<line x1="159.38" y1="469.25" x2="159.38" y2="455.00" stroke="#000" stroke-width="1.15"/>
<line x1="168.44" y1="475.00" x2="168.44" y2="458.50" stroke="#000" stroke-width="1.15"/>
<line x1="177.50" y1="475.75" x2="177.50" y2="458.75" stroke="#000" stroke-width="1.15"/>
<line x1="186.56" y1="493.75" x2="186.56" y2="481.75" stroke="#000" stroke-width="1.15"/>
<line x1="195.62" y1="490.00" x2="195.62" y2="473.75" stroke="#000" stroke-width="1.15"/>
<line x1="204.69" y1="500.50" x2="204.69" y2="490.50" stroke="#000" stroke-width="1.15"/>
<line x1="213.75" y1="510.50" x2="213.75" y2="498.75" stroke="#000" stroke-width="1.15"/>
<line x1="222.81" y1="514.25" x2="222.81" y2="505.00" stroke="#000" stroke-width="1.15"/>
<line x1="231.88" y1="516.75" x2="231.88" y2="508.25" stroke="#000" stroke-width="1.15"/>
<line x1="240.94" y1="523.75" x2="240.94" y2="514.50" stroke="#000" stroke-width="1.15"/>
<line x1="250.00" y1="523.25" x2="250.00" y2="513.25" stroke="#000" stroke-width="1.15"/>
<polyline points="32.50,504.50 41.56,486.75 50.62,479.25 59.69,506.25 68.75,498.75 77.81,494.25 86.88,493.75 95.94,498.25 105.00,504.25 114.06,506.25 123.12,512.50 132.19,501.60 141.25,497.50 150.31,485.75 159.38,487.00 168.44,458.25 177.50,445.00 186.56,447.00 195.62,444.25 204.69,445.75 213.75,448.75 222.81,454.50 231.88,468.00 240.94,468.25 250.00,478.00" fill="none" stroke="#000" stroke-width="1.15" stroke-linejoin="round"/>
<circle cx="32.50" cy="504.50" r="1.95" fill="#fff" stroke="#000" stroke-width="1.25"/>
<circle cx="41.56" cy="486.75" r="1.95" fill="#fff" stroke="#000" stroke-width="1.25"/>
<circle cx="50.62" cy="479.25" r="1.95" fill="#fff" stroke="#000" stroke-width="1.25"/>
<circle cx="59.69" cy="506.25" r="1.95" fill="#fff" stroke="#000" stroke-width="1.25"/>
<circle cx="68.75" cy="498.75" r="1.95" fill="#fff" stroke="#000" stroke-width="1.25"/>
<circle cx="77.81" cy="494.25" r="1.95" fill="#fff" stroke="#000" stroke-width="1.25"/>
<circle cx="86.88" cy="493.75" r="1.95" fill="#fff" stroke="#000" stroke-width="1.25"/>
<circle cx="95.94" cy="498.25" r="1.95" fill="#fff" stroke="#000" stroke-width="1.25"/>
<circle cx="105.00" cy="504.25" r="1.95" fill="#fff" stroke="#000" stroke-width="1.25"/>
<circle cx="114.06" cy="506.25" r="1.95" fill="#fff" stroke="#000" stroke-width="1.25"/>
<circle cx="123.12" cy="512.50" r="1.95" fill="#fff" stroke="#000" stroke-width="1.25"/>
<circle cx="132.19" cy="501.60" r="1.95" fill="#fff" stroke="#000" stroke-width="1.25"/>
<circle cx="141.25" cy="497.50" r="1.95" fill="#fff" stroke="#000" stroke-width="1.25"/>
<circle cx="150.31" cy="485.75" r="1.95" fill="#fff" stroke="#000" stroke-width="1.25"/>
<circle cx="159.38" cy="487.00" r="1.95" fill="#fff" stroke="#000" stroke-width="1.25"/>
<circle cx="168.44" cy="458.25" r="1.95" fill="#fff" stroke="#000" stroke-width="1.25"/>
<circle cx="177.50" cy="445.00" r="1.95" fill="#fff" stroke="#000" stroke-width="1.25"/>
<circle cx="186.56" cy="447.00" r="1.95" fill="#fff" stroke="#000" stroke-width="1.25"/>
<circle cx="195.62" cy="444.25" r="1.95" fill="#fff" stroke="#000" stroke-width="1.25"/>
<circle cx="204.69" cy="445.75" r="1.95" fill="#fff" stroke="#000" stroke-width="1.25"/>
<circle cx="213.75" cy="448.75" r="1.95" fill="#fff" stroke="#000" stroke-width="1.25"/>
<circle cx="222.81" cy="454.50" r="1.95" fill="#fff" stroke="#000" stroke-width="1.25"/>
<circle cx="231.88" cy="468.00" r="1.95" fill="#fff" stroke="#000" stroke-width="1.25"/>
<circle cx="240.94" cy="468.25" r="1.95" fill="#fff" stroke="#000" stroke-width="1.25"/>
<circle cx="250.00" cy="478.00" r="1.95" fill="#fff" stroke="#000" stroke-width="1.25"/>
<polyline points="32.50,537.50 41.56,525.00 50.62,500.75 59.69,490.75 68.75,477.50 77.81,470.90 86.88,461.90 95.94,468.50 105.00,455.75 114.06,445.00 123.12,451.25 132.19,446.00 141.25,452.00 150.31,461.75 159.38,469.25 168.44,475.00 177.50,475.75 186.56,493.75 195.62,490.00 204.69,500.50 213.75,510.50 222.81,514.25 231.88,516.75 240.94,523.75 250.00,523.25" fill="none" stroke="#000" stroke-width="1.15" stroke-linejoin="round"/>
<circle cx="32.50" cy="537.50" r="2.55" fill="#000"/>
<circle cx="41.56" cy="525.00" r="2.55" fill="#000"/>
<circle cx="50.62" cy="500.75" r="2.55" fill="#000"/>
<circle cx="59.69" cy="490.75" r="2.55" fill="#000"/>
<circle cx="68.75" cy="477.50" r="2.55" fill="#000"/>
<circle cx="77.81" cy="470.90" r="2.55" fill="#000"/>
<circle cx="86.88" cy="461.90" r="2.55" fill="#000"/>
<circle cx="95.94" cy="468.50" r="2.55" fill="#000"/>
<circle cx="105.00" cy="455.75" r="2.55" fill="#000"/>
<circle cx="114.06" cy="445.00" r="2.55" fill="#000"/>
<circle cx="123.12" cy="451.25" r="2.55" fill="#000"/>
<circle cx="132.19" cy="446.00" r="2.55" fill="#000"/>
<circle cx="141.25" cy="452.00" r="2.55" fill="#000"/>
<circle cx="150.31" cy="461.75" r="2.55" fill="#000"/>
<circle cx="159.38" cy="469.25" r="2.55" fill="#000"/>
<circle cx="168.44" cy="475.00" r="2.55" fill="#000"/>
<circle cx="177.50" cy="475.75" r="2.55" fill="#000"/>
<circle cx="186.56" cy="493.75" r="2.55" fill="#000"/>
<circle cx="195.62" cy="490.00" r="2.55" fill="#000"/>
<circle cx="204.69" cy="500.50" r="2.55" fill="#000"/>
<circle cx="213.75" cy="510.50" r="2.55" fill="#000"/>
<circle cx="222.81" cy="514.25" r="2.55" fill="#000"/>
<circle cx="231.88" cy="516.75" r="2.55" fill="#000"/>
<circle cx="240.94" cy="523.75" r="2.55" fill="#000"/>
<circle cx="250.00" cy="523.25" r="2.55" fill="#000"/>
<line x1="342.59" y1="454.40" x2="342.59" y2="444.40" stroke="#000" stroke-width="1.15"/>
<line x1="351.66" y1="456.35" x2="351.66" y2="445.80" stroke="#000" stroke-width="1.15"/>
<line x1="369.80" y1="460.80" x2="369.80" y2="455.00" stroke="#000" stroke-width="1.15"/>
<line x1="378.87" y1="461.70" x2="378.87" y2="453.50" stroke="#000" stroke-width="1.15"/>
<line x1="387.94" y1="463.10" x2="387.94" y2="455.00" stroke="#000" stroke-width="1.15"/>
<line x1="397.01" y1="466.50" x2="397.01" y2="458.85" stroke="#000" stroke-width="1.15"/>
<line x1="406.08" y1="470.00" x2="406.08" y2="462.70" stroke="#000" stroke-width="1.15"/>
<line x1="415.15" y1="470.00" x2="415.15" y2="461.70" stroke="#000" stroke-width="1.15"/>
<line x1="424.22" y1="470.30" x2="424.22" y2="461.70" stroke="#000" stroke-width="1.15"/>
<line x1="433.29" y1="470.55" x2="433.29" y2="464.60" stroke="#000" stroke-width="1.15"/>
<line x1="451.43" y1="472.50" x2="451.43" y2="468.60" stroke="#000" stroke-width="1.15"/>
<line x1="360.73" y1="455.60" x2="360.73" y2="447.30" stroke="#000" stroke-width="1.15"/>
<line x1="369.80" y1="456.35" x2="369.80" y2="448.65" stroke="#000" stroke-width="1.15"/>
<line x1="378.87" y1="452.70" x2="378.87" y2="444.40" stroke="#000" stroke-width="1.15"/>
<line x1="387.94" y1="454.00" x2="387.94" y2="447.00" stroke="#000" stroke-width="1.15"/>
<line x1="397.01" y1="451.15" x2="397.01" y2="443.00" stroke="#000" stroke-width="1.15"/>
<line x1="406.08" y1="455.60" x2="406.08" y2="448.65" stroke="#000" stroke-width="1.15"/>
<line x1="415.15" y1="459.80" x2="415.15" y2="452.50" stroke="#000" stroke-width="1.15"/>
<line x1="424.22" y1="455.10" x2="424.22" y2="446.00" stroke="#000" stroke-width="1.15"/>
<line x1="433.29" y1="460.70" x2="433.29" y2="451.85" stroke="#000" stroke-width="1.15"/>
<line x1="442.36" y1="461.70" x2="442.36" y2="455.80" stroke="#000" stroke-width="1.15"/>
<line x1="451.43" y1="461.70" x2="451.43" y2="454.40" stroke="#000" stroke-width="1.15"/>
<line x1="460.50" y1="462.10" x2="460.50" y2="453.80" stroke="#000" stroke-width="1.15"/>
<line x1="469.57" y1="461.70" x2="469.57" y2="452.80" stroke="#000" stroke-width="1.15"/>
<line x1="478.64" y1="467.20" x2="478.64" y2="459.30" stroke="#000" stroke-width="1.15"/>
<line x1="487.71" y1="468.00" x2="487.71" y2="460.30" stroke="#000" stroke-width="1.15"/>
<line x1="496.78" y1="467.60" x2="496.78" y2="459.70" stroke="#000" stroke-width="1.15"/>
<polyline points="342.59,454.40 351.66,456.35 360.73,458.50 369.80,460.80 378.87,461.70 387.94,463.10 397.01,466.50 406.08,470.00 415.15,470.00 424.22,470.30 433.29,470.55 442.36,471.00 451.43,472.50 460.50,474.10 469.57,473.50 478.64,472.50 487.71,471.50 496.78,471.00" fill="none" stroke="#000" stroke-width="1.15" stroke-linejoin="round"/>
<circle cx="342.59" cy="454.40" r="2.55" fill="#000"/>
<circle cx="351.66" cy="456.35" r="2.55" fill="#000"/>
<circle cx="360.73" cy="458.50" r="2.55" fill="#000"/>
<circle cx="369.80" cy="460.80" r="2.55" fill="#000"/>
<circle cx="378.87" cy="461.70" r="2.55" fill="#000"/>
<circle cx="387.94" cy="463.10" r="2.55" fill="#000"/>
<circle cx="397.01" cy="466.50" r="2.55" fill="#000"/>
<circle cx="406.08" cy="470.00" r="2.55" fill="#000"/>
<circle cx="415.15" cy="470.00" r="2.55" fill="#000"/>
<circle cx="424.22" cy="470.30" r="2.55" fill="#000"/>
<circle cx="433.29" cy="470.55" r="2.55" fill="#000"/>
<circle cx="442.36" cy="471.00" r="2.55" fill="#000"/>
<circle cx="451.43" cy="472.50" r="2.55" fill="#000"/>
<circle cx="460.50" cy="474.10" r="2.55" fill="#000"/>
<circle cx="469.57" cy="473.50" r="2.55" fill="#000"/>
<circle cx="478.64" cy="472.50" r="2.55" fill="#000"/>
<circle cx="487.71" cy="471.50" r="2.55" fill="#000"/>
<circle cx="496.78" cy="471.00" r="2.55" fill="#000"/>
<polyline points="342.59,458.30 351.66,458.50 360.73,455.60 369.80,456.35 378.87,452.70 387.94,454.00 397.01,451.15 406.08,455.60 415.15,459.80 424.22,455.10 433.29,460.70 442.36,461.70 451.43,461.70 460.50,462.10 469.57,461.70 478.64,467.20 487.71,468.00 496.78,467.60" fill="none" stroke="#000" stroke-width="1.15" stroke-linejoin="round"/>
<circle cx="342.59" cy="458.30" r="1.95" fill="#fff" stroke="#000" stroke-width="1.25"/>
<circle cx="351.66" cy="458.50" r="1.95" fill="#fff" stroke="#000" stroke-width="1.25"/>
<circle cx="360.73" cy="455.60" r="1.95" fill="#fff" stroke="#000" stroke-width="1.25"/>
<circle cx="369.80" cy="456.35" r="1.95" fill="#fff" stroke="#000" stroke-width="1.25"/>
<circle cx="378.87" cy="452.70" r="1.95" fill="#fff" stroke="#000" stroke-width="1.25"/>
<circle cx="387.94" cy="454.00" r="1.95" fill="#fff" stroke="#000" stroke-width="1.25"/>
<circle cx="397.01" cy="451.15" r="1.95" fill="#fff" stroke="#000" stroke-width="1.25"/>
<circle cx="406.08" cy="455.60" r="1.95" fill="#fff" stroke="#000" stroke-width="1.25"/>
<circle cx="415.15" cy="459.80" r="1.95" fill="#fff" stroke="#000" stroke-width="1.25"/>
<circle cx="424.22" cy="455.10" r="1.95" fill="#fff" stroke="#000" stroke-width="1.25"/>
<circle cx="433.29" cy="460.70" r="1.95" fill="#fff" stroke="#000" stroke-width="1.25"/>
<circle cx="442.36" cy="461.70" r="1.95" fill="#fff" stroke="#000" stroke-width="1.25"/>
<circle cx="451.43" cy="461.70" r="1.95" fill="#fff" stroke="#000" stroke-width="1.25"/>
<circle cx="460.50" cy="462.10" r="1.95" fill="#fff" stroke="#000" stroke-width="1.25"/>
<circle cx="469.57" cy="461.70" r="1.95" fill="#fff" stroke="#000" stroke-width="1.25"/>
<circle cx="478.64" cy="467.20" r="1.95" fill="#fff" stroke="#000" stroke-width="1.25"/>
<circle cx="487.71" cy="468.00" r="1.95" fill="#fff" stroke="#000" stroke-width="1.25"/>
<circle cx="496.78" cy="467.60" r="1.95" fill="#fff" stroke="#000" stroke-width="1.25"/>
<line x1="32.00" y1="549.50" x2="250.50" y2="549.50" stroke="#000" stroke-width="1.15"/>
<line x1="32.50" y1="549.50" x2="32.50" y2="546.30" stroke="#000" stroke-width="1.15"/>
<text x="32.30" y="560.00" font-size="7.5" text-anchor="middle" stroke="#000" stroke-width="0.4">0</text>
<line x1="50.62" y1="549.50" x2="50.62" y2="546.30" stroke="#000" stroke-width="1.15"/>
<text x="50.42" y="560.00" font-size="7.5" text-anchor="middle" stroke="#000" stroke-width="0.4">2</text>
<line x1="68.75" y1="549.50" x2="68.75" y2="546.30" stroke="#000" stroke-width="1.15"/>
<text x="68.55" y="560.00" font-size="7.5" text-anchor="middle" stroke="#000" stroke-width="0.4">4</text>
<line x1="86.88" y1="549.50" x2="86.88" y2="546.30" stroke="#000" stroke-width="1.15"/>
<text x="86.67" y="560.00" font-size="7.5" text-anchor="middle" stroke="#000" stroke-width="0.4">6</text>
<line x1="105.00" y1="549.50" x2="105.00" y2="546.30" stroke="#000" stroke-width="1.15"/>
<text x="104.80" y="560.00" font-size="7.5" text-anchor="middle" stroke="#000" stroke-width="0.4">8</text>
<line x1="123.12" y1="549.50" x2="123.12" y2="546.30" stroke="#000" stroke-width="1.15"/>
<text x="122.92" y="560.00" font-size="7.5" text-anchor="middle" stroke="#000" stroke-width="0.4">10</text>
<line x1="141.25" y1="549.50" x2="141.25" y2="546.30" stroke="#000" stroke-width="1.15"/>
<text x="141.05" y="560.00" font-size="7.5" text-anchor="middle" stroke="#000" stroke-width="0.4">12</text>
<line x1="159.38" y1="549.50" x2="159.38" y2="546.30" stroke="#000" stroke-width="1.15"/>
<text x="159.18" y="560.00" font-size="7.5" text-anchor="middle" stroke="#000" stroke-width="0.4">14</text>
<line x1="177.50" y1="549.50" x2="177.50" y2="546.30" stroke="#000" stroke-width="1.15"/>
<text x="177.30" y="560.00" font-size="7.5" text-anchor="middle" stroke="#000" stroke-width="0.4">16</text>
<line x1="195.62" y1="549.50" x2="195.62" y2="546.30" stroke="#000" stroke-width="1.15"/>
<text x="195.43" y="560.00" font-size="7.5" text-anchor="middle" stroke="#000" stroke-width="0.4">18</text>
<line x1="213.75" y1="549.50" x2="213.75" y2="546.30" stroke="#000" stroke-width="1.15"/>
<text x="213.55" y="560.00" font-size="7.5" text-anchor="middle" stroke="#000" stroke-width="0.4">20</text>
<line x1="231.88" y1="549.50" x2="231.88" y2="546.30" stroke="#000" stroke-width="1.15"/>
<text x="231.68" y="560.00" font-size="7.5" text-anchor="middle" stroke="#000" stroke-width="0.4">22</text>
<line x1="250.00" y1="549.50" x2="250.00" y2="546.30" stroke="#000" stroke-width="1.15"/>
<text x="249.80" y="560.00" font-size="7.5" text-anchor="middle" stroke="#000" stroke-width="0.4">24</text>
<line x1="278.75" y1="550.50" x2="497.10" y2="550.50" stroke="#000" stroke-width="1.15"/>
<line x1="279.25" y1="550.50" x2="279.25" y2="547.20" stroke="#000" stroke-width="1.15"/>
<text x="279.25" y="560.70" font-size="7.5" text-anchor="middle" stroke="#000" stroke-width="0.4">0</text>
<line x1="297.36" y1="550.50" x2="297.36" y2="547.20" stroke="#000" stroke-width="1.15"/>
<text x="297.36" y="560.70" font-size="7.5" text-anchor="middle" stroke="#000" stroke-width="0.4">2</text>
<line x1="315.48" y1="550.50" x2="315.48" y2="547.20" stroke="#000" stroke-width="1.15"/>
<text x="315.48" y="560.70" font-size="7.5" text-anchor="middle" stroke="#000" stroke-width="0.4">4</text>
<line x1="333.59" y1="550.50" x2="333.59" y2="547.20" stroke="#000" stroke-width="1.15"/>
<text x="333.59" y="560.70" font-size="7.5" text-anchor="middle" stroke="#000" stroke-width="0.4">6</text>
<line x1="351.70" y1="550.50" x2="351.70" y2="547.20" stroke="#000" stroke-width="1.15"/>
<text x="351.70" y="560.70" font-size="7.5" text-anchor="middle" stroke="#000" stroke-width="0.4">8</text>
<line x1="369.81" y1="550.50" x2="369.81" y2="547.20" stroke="#000" stroke-width="1.15"/>
<text x="369.81" y="560.70" font-size="7.5" text-anchor="middle" stroke="#000" stroke-width="0.4">10</text>
<line x1="387.93" y1="550.50" x2="387.93" y2="547.20" stroke="#000" stroke-width="1.15"/>
<text x="387.93" y="560.70" font-size="7.5" text-anchor="middle" stroke="#000" stroke-width="0.4">12</text>
<line x1="406.04" y1="550.50" x2="406.04" y2="547.20" stroke="#000" stroke-width="1.15"/>
<text x="406.04" y="560.70" font-size="7.5" text-anchor="middle" stroke="#000" stroke-width="0.4">14</text>
<line x1="424.15" y1="550.50" x2="424.15" y2="547.20" stroke="#000" stroke-width="1.15"/>
<text x="424.15" y="560.70" font-size="7.5" text-anchor="middle" stroke="#000" stroke-width="0.4">16</text>
<line x1="442.26" y1="550.50" x2="442.26" y2="547.20" stroke="#000" stroke-width="1.15"/>
<text x="442.26" y="560.70" font-size="7.5" text-anchor="middle" stroke="#000" stroke-width="0.4">18</text>
<line x1="460.38" y1="550.50" x2="460.38" y2="547.20" stroke="#000" stroke-width="1.15"/>
<text x="460.38" y="560.70" font-size="7.5" text-anchor="middle" stroke="#000" stroke-width="0.4">20</text>
<line x1="478.49" y1="550.50" x2="478.49" y2="547.20" stroke="#000" stroke-width="1.15"/>
<text x="478.49" y="560.70" font-size="7.5" text-anchor="middle" stroke="#000" stroke-width="0.4">22</text>
<line x1="496.60" y1="550.50" x2="496.60" y2="547.20" stroke="#000" stroke-width="1.15"/>
<text x="496.60" y="560.70" font-size="7.5" text-anchor="middle" stroke="#000" stroke-width="0.4">24</text>
<line x1="0.00" y1="572.20" x2="20.20" y2="572.20" stroke="#000" stroke-width="1.15"/>
<circle cx="10.6" cy="572.2" r="1.8" fill="#fff" stroke="#000" stroke-width="1.15"/>
<line x1="0.00" y1="580.40" x2="20.20" y2="580.40" stroke="#000" stroke-width="1.15"/>
<circle cx="10.6" cy="580.4" r="2.4" fill="#000"/>
<text x="25.50" y="575.75" font-size="7.3" text-anchor="start" stroke="#000" stroke-width="0.4">22:00</text>
<text x="25.50" y="584.90" font-size="7.3" text-anchor="start" stroke="#000" stroke-width="0.4">10:00</text>
<text x="65.40" y="575.75" font-size="7.3" text-anchor="start" stroke="#000" stroke-width="0.4">2:00</text>
<text x="65.40" y="584.90" font-size="7.3" text-anchor="start" stroke="#000" stroke-width="0.4">14:00</text>
<text x="104.80" y="575.75" font-size="7.3" text-anchor="start" stroke="#000" stroke-width="0.4">6:00</text>
<text x="104.80" y="584.90" font-size="7.3" text-anchor="start" stroke="#000" stroke-width="0.4">18:00</text>
<text x="140.60" y="575.75" font-size="7.3" text-anchor="start" stroke="#000" stroke-width="0.4">10:00</text>
<text x="140.60" y="584.90" font-size="7.3" text-anchor="start" stroke="#000" stroke-width="0.4">22:00</text>
<text x="177.60" y="575.75" font-size="7.3" text-anchor="start" stroke="#000" stroke-width="0.4">14:00</text>
<text x="177.60" y="584.90" font-size="7.3" text-anchor="start" stroke="#000" stroke-width="0.4">2:00</text>
<text x="213.20" y="575.75" font-size="7.3" text-anchor="start" stroke="#000" stroke-width="0.4">18:00</text>
<text x="213.20" y="584.90" font-size="7.3" text-anchor="start" stroke="#000" stroke-width="0.4">6:00</text>
<text x="243.20" y="575.75" font-size="7.3" text-anchor="start" stroke="#000" stroke-width="0.4">22:00</text>
<text x="243.20" y="584.90" font-size="7.3" text-anchor="start" stroke="#000" stroke-width="0.4">10:00</text>
<text x="281.50" y="575.20" font-size="7.3" text-anchor="middle" stroke="#000" stroke-width="0.4">22:00</text>
<text x="281.50" y="585.30" font-size="7.3" text-anchor="middle" stroke="#000" stroke-width="0.4">10:00</text>
<text x="321.00" y="575.20" font-size="7.3" text-anchor="middle" stroke="#000" stroke-width="0.4">2:00</text>
<text x="321.00" y="585.30" font-size="7.3" text-anchor="middle" stroke="#000" stroke-width="0.4">14:00</text>
<text x="356.50" y="575.20" font-size="7.3" text-anchor="middle" stroke="#000" stroke-width="0.4">6:00</text>
<text x="356.50" y="585.30" font-size="7.3" text-anchor="middle" stroke="#000" stroke-width="0.4">18:00</text>
<text x="392.50" y="575.20" font-size="7.3" text-anchor="middle" stroke="#000" stroke-width="0.4">10:00</text>
<text x="392.50" y="585.30" font-size="7.3" text-anchor="middle" stroke="#000" stroke-width="0.4">22:00</text>
<text x="428.50" y="575.20" font-size="7.3" text-anchor="middle" stroke="#000" stroke-width="0.4">14:00</text>
<text x="428.50" y="585.30" font-size="7.3" text-anchor="middle" stroke="#000" stroke-width="0.4">2:00</text>
<text x="464.00" y="575.20" font-size="7.3" text-anchor="middle" stroke="#000" stroke-width="0.4">18:00</text>
<text x="464.00" y="585.30" font-size="7.3" text-anchor="middle" stroke="#000" stroke-width="0.4">6:00</text>
<text x="495.00" y="575.20" font-size="7.3" text-anchor="middle" stroke="#000" stroke-width="0.4">22:00</text>
<text x="495.00" y="585.30" font-size="7.3" text-anchor="middle" stroke="#000" stroke-width="0.4">10:00</text>
<text x="157.70" y="604.20" font-size="11.15" text-anchor="middle" stroke="#000" stroke-width="0.4">Time of day (h)</text>
<text x="383.20" y="606.20" font-size="11.15" text-anchor="middle" stroke="#000" stroke-width="0.4">Time of day (h)</text>
</svg>
</body></html>
